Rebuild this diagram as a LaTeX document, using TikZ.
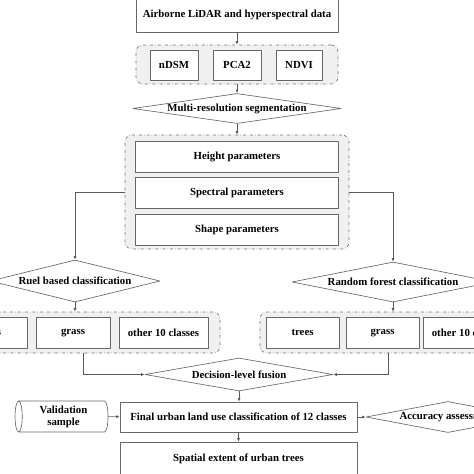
\documentclass[tikz,border=0pt]{standalone}
\usepackage{fontspec}
\setmainfont{Liberation Serif}
\usetikzlibrary{shapes.geometric,arrows.meta,calc}

\begin{document}
\begin{tikzpicture}[x=1pt, y=-1pt, font=\fontsize{10.8}{12}\selectfont\bfseries, line join=round,
	box/.style={draw=black!60, fill=white, line width=0.65pt, inner sep=0pt, minimum height=31pt},
	grp/.style={draw=black!55, fill=black!6, dash dot, rounded corners=7pt, line width=0.65pt, inner sep=0pt},
	dia/.style={diamond, draw=black!60, fill=white, line width=0.65pt, inner sep=0pt},
	arr/.style={draw=black!65, line width=0.65pt, -{Latex[length=3.5pt,width=3pt]}},
	lnk/.style={draw=black!65, line width=0.65pt}]
	\useasboundingbox (0,0) rectangle (474,474);
	\clip (0,0) rectangle (474,474);
	% input data
	\node[box, minimum width=202pt, minimum height=34pt] (src) at (237,15) {Airborne LiDAR and hyperspectral data};
	\node[grp, minimum width=202pt, minimum height=39pt] (feat) at (237,64.5) {};
	\foreach \x/\w/\t/\n in {174/48/nDSM/ndsm, 237/48/PCA2/pca, 299/46/NDVI/ndvi}
		\node[box, minimum width=\w pt, minimum height=30pt] (\n) at (\x,65) {\t};
	\node[dia, shape aspect=7, minimum width=208pt, minimum height=30pt] (seg) at (237,108.5) {Multi-resolution segmentation};
	% object parameters
	\node[grp, minimum width=224pt, minimum height=114pt] (par) at (237,192) {};
	\foreach \y/\t/\n in {156.5/Height parameters/hgt, 192.5/Spectral parameters/spc, 229.5/Shape parameters/shp}
		\node[box, minimum width=203pt] (\n) at (237,\y) {\t};
	% two classifiers
	\node[dia, shape aspect=4.1, minimum width=170pt, minimum height=42pt] (rule) at (75,281) {Ruel based classification};
	\node[dia, shape aspect=5, minimum width=202pt, minimum height=40pt] (rf) at (393,282) {Random forest classification};
	\node[grp, minimum width=250pt, minimum height=41pt] (clsL) at (95,332.5) {};
	\node[grp, minimum width=260pt, minimum height=41pt] (clsR) at (390,332.5) {};
	\foreach \x/\w/\t/\n in {-10/74/trees/treL, 73/74/grass/grsL, 163.5/89/other 10 classes/othL,
		302.5/73/trees/treR, 382.5/73/grass/grsR, 467.5/89/other 10 classes/othR}
		\node[box, minimum width=\w pt] (\n) at (\x,332.5) {\t};
	% fusion and results
	\node[dia, shape aspect=5.7, minimum width=188pt, minimum height=33pt] (fus) at (239,374.5) {Decision-level fusion};
	\node[box, minimum width=237pt, minimum height=30pt] (fin) at (238.5,417) {Final urban land use classification of 12 classes};
	\node[cylinder, shape border rotate=180, shape aspect=0.33, draw=black!60, fill=white, line width=0.65pt,
		minimum width=31pt, minimum height=93pt, inner sep=0pt, align=center] (val) at (63.5,416.5) {Validation\\sample};
	\node[dia, shape aspect=5.3, minimum width=164pt, minimum height=31pt] (acc) at (448,417) {Accuracy assessment};
	\node[box, minimum width=237pt, minimum height=34pt] (ext) at (238.5,459) {Spatial extent of urban trees};

	\draw[arr] (src) -- (feat);
	\draw[arr] (feat) -- (seg);
	\draw[arr] (seg.south) -- (par);
	\draw[arr] (par.west) -| (rule.north);
	\draw[arr] (par.east) -| (rf.north);
	\draw[arr] (rule.south) -- (rule.south |- clsL.north);
	\draw[arr] (rf.south) -- (rf.south |- clsR.north);
	\draw[arr] ($(clsL.south)+(-12,0)$) |- (fus.west);
	\draw[arr] ($(clsR.south)+(-2,0)$) |- (fus.east);
	\draw[arr] (fus.south) -- (fus.south |- fin.north);
	\draw[arr] (val) -- (fin);
	\draw[arr] (fin) -- (acc);
	\draw[arr] (fin) -- (ext);
\end{tikzpicture}
\end{document}
